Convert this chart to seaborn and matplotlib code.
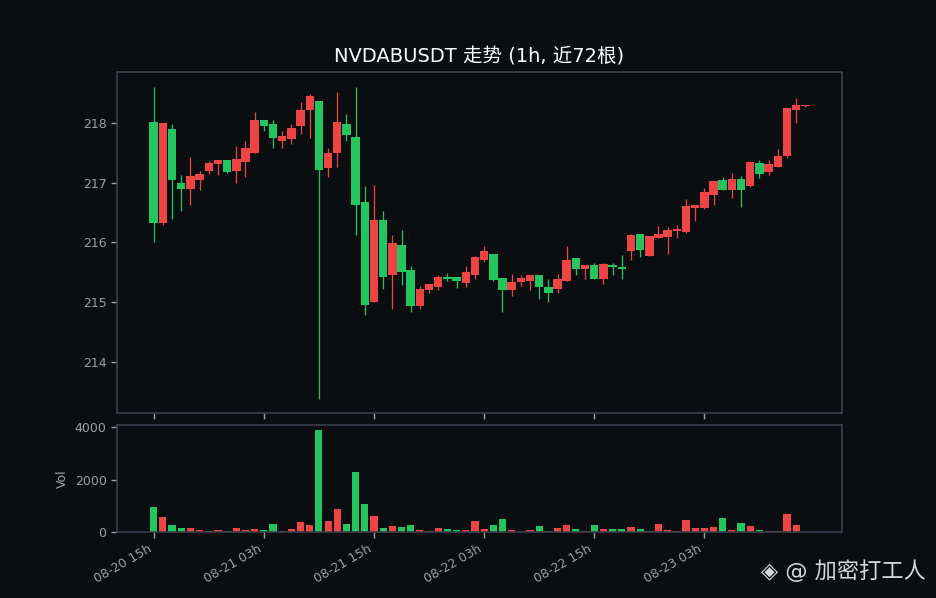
import numpy as np
import pandas as pd
import matplotlib
matplotlib.use("Agg")
import matplotlib.pyplot as plt
import seaborn as sns

# ---------------- data ----------------
opens = [218.01, 216.32, 217.89, 216.99, 216.90, 217.05, 217.19, 217.32, 217.38, 217.20,
         217.35, 217.50, 218.05, 217.98, 217.70, 217.73, 217.94, 218.22, 218.37, 217.25,
         217.50, 217.98, 217.77, 216.67, 215.01, 216.38, 215.45, 215.96, 215.54, 214.945,
         215.20, 215.26, 215.425, 215.42, 215.33, 215.45, 215.715, 215.81, 215.41, 215.20,
         215.34, 215.36, 215.45, 215.26, 215.23, 215.36, 215.74, 215.55, 215.625, 215.395,
         215.625, 215.59, 215.85, 216.14, 215.78, 216.08, 216.10, 216.19, 216.17, 216.58,
         216.58, 216.80, 217.05, 216.885, 217.06, 216.94, 217.33, 217.17, 217.27, 217.45,
         218.22, 218.28]
highs = [218.60, 218.00, 217.98, 217.13, 217.43, 217.20, 217.36, 217.38, 217.38, 217.62,
         217.70, 218.18, 218.05, 218.05, 217.86, 217.98, 218.35, 218.49, 218.37, 217.58,
         218.51, 218.15, 218.60, 216.95, 216.96, 216.53, 216.13, 216.21, 215.61, 215.27,
         215.31, 215.46, 215.49, 215.42, 215.61, 215.78, 215.94, 215.81, 215.41, 215.475,
         215.45, 215.46, 215.46, 215.39, 215.475, 215.94, 215.74, 215.625, 215.66, 215.66,
         215.66, 215.79, 216.14, 216.14, 216.11, 216.28, 216.26, 216.29, 216.73, 216.63,
         216.91, 217.03, 217.10, 217.16, 217.11, 217.35, 217.38, 217.38, 217.565, 218.25,
         218.42, 218.30]
lows = [216.00, 216.30, 216.40, 216.53, 216.63, 216.87, 217.14, 217.12, 217.16, 217.00,
        217.10, 217.50, 217.87, 217.58, 217.58, 217.65, 217.82, 217.75, 213.39, 217.09,
        217.27, 217.69, 216.13, 214.78, 215.00, 215.23, 214.88, 215.29, 214.83, 214.89,
        215.15, 215.20, 215.36, 215.24, 215.26, 215.39, 215.68, 215.35, 214.84, 215.11,
        215.27, 215.20, 215.06, 215.00, 215.15, 215.36, 215.46, 215.39, 215.395, 215.31,
        215.46, 215.39, 215.70, 215.76, 215.78, 216.08, 215.815, 216.07, 216.16, 216.36,
        216.56, 216.63, 216.87, 216.75, 216.60, 216.92, 217.07, 217.12, 217.26, 217.42,
        217.99, 218.27]
closes = [216.32, 217.99, 217.04, 216.89, 217.11, 217.15, 217.33, 217.38, 217.17, 217.40,
          217.58, 218.05, 217.94, 217.75, 217.78, 217.92, 218.22, 218.45, 217.22, 217.50,
          218.02, 217.79, 216.63, 214.96, 216.38, 215.43, 215.99, 215.50, 214.93, 215.22,
          215.31, 215.425, 215.39, 215.36, 215.51, 215.76, 215.86, 215.37, 215.21, 215.34,
          215.41, 215.46, 215.26, 215.16, 215.39, 215.71, 215.55, 215.625, 215.395, 215.64,
          215.59, 215.55, 216.13, 215.88, 216.11, 216.14, 216.21, 216.23, 216.61, 216.63,
          216.85, 217.03, 216.885, 217.06, 216.885, 217.35, 217.15, 217.31, 217.45, 218.25,
          218.30, 218.30]
volumes = [952, 571, 267, 152, 152, 76, 38, 76, 38, 152,
           76, 114, 76, 305, 38, 114, 381, 267, 3886, 419,
           876, 305, 2286, 1067, 610, 152, 229, 190, 267, 76,
           38, 152, 114, 76, 76, 419, 114, 267, 495, 76,
           12, 76, 229, 38, 152, 267, 114, 38, 267, 114,
           114, 114, 190, 114, 38, 305, 76, 38, 457, 152,
           152, 190, 533, 76, 343, 229, 76, 38, 38, 686,
           267, 10]
tick_positions = [0, 12, 24, 36, 48, 60]
tick_labels = ["08-20 15h", "08-21 03h", "08-21 15h", "08-22 03h", "08-22 15h", "08-23 03h"]
title_text = "NVDABUSDT 走势 (1h, 近72根)"

# ---------------- style ----------------
BG = "#0b0e11"
UP = "#ef4444"     # red = up
DOWN = "#22c55e"   # green = down
EDGE = "#3a3f4b"
TXT = "#9aa0a8"

sns.set_theme(style="dark", rc={
    "figure.facecolor": BG, "axes.facecolor": BG, "axes.edgecolor": EDGE,
    "axes.linewidth": 1.2, "xtick.color": TXT, "ytick.color": TXT,
    "axes.labelcolor": TXT, "text.color": "white",
    "xtick.bottom": True, "ytick.left": True,
})
plt.rcParams["font.family"] = ["DejaVu Sans", "Noto Sans CJK SC"]

df = pd.DataFrame({"idx": np.arange(len(opens)), "open": opens, "high": highs,
                   "low": lows, "close": closes, "vol": volumes})
df["dir"] = np.where(df["close"] >= df["open"], "up", "down")
colors = np.where(df["dir"] == "up", UP, DOWN)

fig = plt.figure(figsize=(9.36, 5.98), dpi=100)
ax = fig.add_axes([0.125, 0.3094, 0.7746, 0.5702])
axv = fig.add_axes([0.125, 0.1104, 0.7746, 0.1789])

# candles
ax.vlines(df["idx"], df["low"], df["high"], colors=colors, linewidth=0.9, zorder=2)
body_bottom = np.minimum(df["open"], df["close"])
body_h = np.maximum(np.abs(df["close"] - df["open"]), 0.025)
ax.bar(df["idx"], body_h, bottom=body_bottom, width=0.92, color=colors,
       linewidth=0, zorder=3)
ax.set_xlim(-4, 75)
ax.set_ylim(213.15, 218.85)
ax.set_yticks([214, 215, 216, 217, 218])
ax.set_xticks(tick_positions)
ax.set_xticklabels([])
ax.tick_params(axis="both", labelsize=9, length=4, width=1, color=TXT)
ax.set_title(title_text, fontsize=14, color="white", pad=7,
             family=["DejaVu Sans", "Noto Sans CJK SC"])
ax.grid(False)

# volume
sns.barplot(data=df, x="idx", y="vol", hue="dir", palette={"up": UP, "down": DOWN},
            native_scale=True, dodge=False, width=0.78, errorbar=None, legend=False,
            saturation=1, linewidth=0, ax=axv)
axv.set_xlim(-4, 75)
axv.set_ylim(0, 4080)
axv.set_yticks([0, 2000, 4000])
axv.set_xticks(tick_positions)
axv.set_xticklabels(tick_labels, rotation=30, ha="right")
axv.set_xlabel("")
axv.set_ylabel("Vol", fontsize=9, color=TXT)
axv.tick_params(axis="both", labelsize=9, length=4, width=1, color=TXT)
axv.grid(False)

fig.text(926 / 936, 1 - 571 / 598, "◈ @ 加密打工人", ha="right", va="center",
         fontsize=16, color="#d6d6d6", family=["DejaVu Sans", "Noto Sans CJK SC"])

fig.savefig("out.png", dpi=100, facecolor=BG)
